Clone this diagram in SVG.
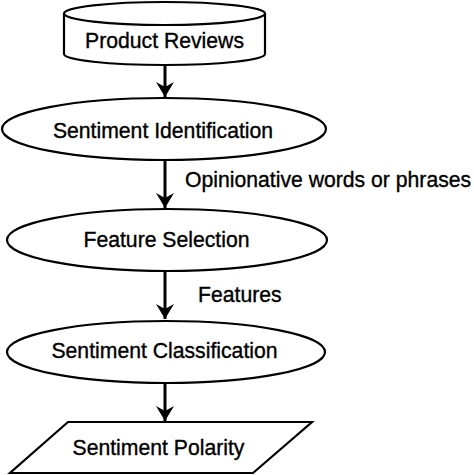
<svg xmlns="http://www.w3.org/2000/svg" width="474" height="475" viewBox="0 0 474 475">
<defs>
<style>
.shape{fill:#fff;stroke:#000;stroke-width:2.2}
.lbl{font-family:"Liberation Sans",Arial,sans-serif;font-size:21.2px;fill:#000;stroke:#000;stroke-width:0.35}
.c{text-anchor:middle}
.conn{stroke:#000;stroke-width:3;fill:none}
</style>
<marker id="ah" markerUnits="userSpaceOnUse" markerWidth="20" markerHeight="20" viewBox="-16 -10 18 20" refX="0" refY="0" orient="auto">
<path d="M0,0 L-15,-9 L-10,0 L-15,9 Z" fill="#000"/>
</marker>
</defs>
<rect width="474" height="475" fill="#fff"/>
<g id="connectors">
<line class="conn" x1="165" y1="65" x2="165" y2="97" marker-end="url(#ah)"/>
<line class="conn" x1="165" y1="160" x2="165" y2="208" marker-end="url(#ah)"/>
<line class="conn" x1="165" y1="271" x2="165" y2="319" marker-end="url(#ah)"/>
<line class="conn" x1="165" y1="383" x2="165" y2="421" marker-end="url(#ah)"/>
<text class="lbl" x="185" y="187">Opinionative words or phrases</text>
<text class="lbl" x="198" y="302">Features</text>
</g>
<g id="product-reviews">
<path class="shape" d="M64,13.5 L64,54 A100.5,11 0 0 0 265,54 L265,13.5"/>
<ellipse class="shape" cx="164.5" cy="13.5" rx="100.5" ry="11.5"/>
<text class="lbl c" x="164.5" y="48">Product Reviews</text>
</g>
<g id="sentiment-identification">
<ellipse class="shape" cx="164" cy="129" rx="162" ry="31"/>
<text class="lbl c" x="163" y="138">Sentiment Identification</text>
</g>
<g id="feature-selection">
<ellipse class="shape" cx="167" cy="240" rx="160" ry="31"/>
<text class="lbl c" x="166.5" y="247">Feature Selection</text>
</g>
<g id="sentiment-classification">
<ellipse class="shape" cx="166" cy="352" rx="159" ry="31"/>
<text class="lbl c" x="164.5" y="358">Sentiment Classification</text>
</g>
<g id="sentiment-polarity">
<path class="shape" d="M68,422 L312,422 L253,473 L10,473 Z"/>
<text class="lbl c" x="158.5" y="455">Sentiment Polarity</text>
</g>
</svg>
